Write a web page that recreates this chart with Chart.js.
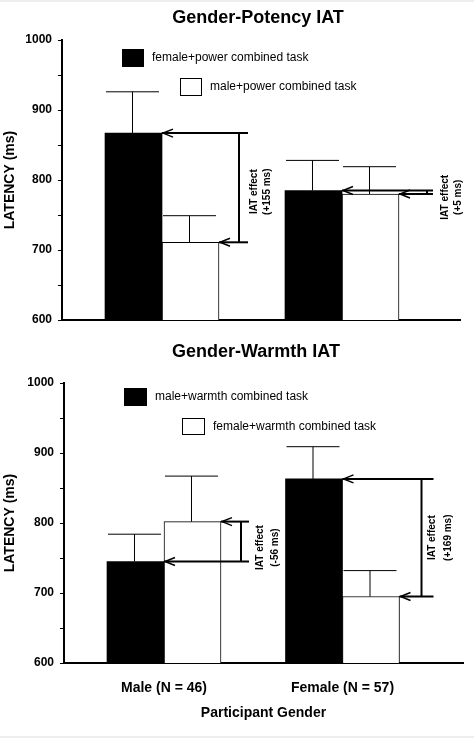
<!DOCTYPE html>
<html>
<head>
<meta charset="utf-8">
<script src="https://cdn.jsdelivr.net/npm/chart.js@4.4.0/dist/chart.umd.min.js"></script>
<style>
  html, body { margin: 0; padding: 0; background: #fff; }
  body { width: 474px; height: 738px; position: relative; overflow: hidden; }
  canvas { position: absolute; left: 0; }
  .band { position: absolute; left: 0; width: 474px; background: #eeeeee; z-index: 5; }
</style>
</head>
<body>
<div class="band" style="top:0;height:2px"></div>
<canvas id="c1" width="474" height="340" style="top:0"></canvas>
<canvas id="c2" width="474" height="398" style="top:340px"></canvas>
<div class="band" style="top:736px;height:2px"></div>
<script>
// ---------------- data ----------------
const categories = ['Male (N = 46)', 'Female (N = 57)'];
const yTicks = [600, 700, 800, 900, 1000];
const yTitle = 'LATENCY (ms)';
const xTitle = 'Participant Gender';

const potencyTitle = 'Gender-Potency IAT';
const potencyLabels = ['female+power combined task', 'male+power combined task'];
const potencyA = [867, 785];
const potencyB = [711, 780];
const potencyAErr = [926, 828];
const potencyBErr = [749, 819];
const potencyEffects = ['(+155 ms)', '(+5 ms)'];

const warmthTitle = 'Gender-Warmth IAT';
const warmthLabels = ['male+warmth combined task', 'female+warmth combined task'];
const warmthA = [745, 863];
const warmthB = [802, 695];
const warmthAErr = [784, 909];
const warmthBErr = [867, 732];
const warmthEffects = ['(-56 ms)', '(+169 ms)'];

// ---------------- styling ----------------
const FONT = '"Liberation Sans", Arial, Helvetica, sans-serif';

const decor = {
  id: 'decor',
  afterDatasetsDraw(chart, args, o) {
    const ctx = chart.ctx;
    const ys = chart.scales.y;
    ctx.save();
    ctx.fillStyle = '#000';
    ctx.textBaseline = 'middle';
    // title
    ctx.font = 'bold 18px ' + FONT;
    ctx.textAlign = 'center';
    ctx.fillText(o.title, o.titleX, o.titleY);
    // legend
    chart.data.datasets.forEach((ds, i) => {
      const L = o.legend[i];
      ctx.fillStyle = ds.backgroundColor;
      ctx.fillRect(L.x, L.y, L.w, L.h);
      ctx.strokeStyle = '#000';
      ctx.lineWidth = 1;
      ctx.strokeRect(L.x + 0.5, L.y + 0.5, L.w - 1, L.h - 1);
      ctx.fillStyle = '#000';
      ctx.font = '12px ' + FONT;
      ctx.textAlign = 'left';
      ctx.fillText(ds.label, L.x + L.w + 8, L.y + L.h / 2);
    });
    // error bars
    chart.data.datasets.forEach((ds, i) => {
      const meta = chart.getDatasetMeta(i);
      meta.data.forEach((bar, j) => {
        const yt = ys.getPixelForValue(ds.errTop[j]);
        const w = bar.width;
        ctx.strokeStyle = '#000';
        ctx.lineWidth = 1;
        ctx.beginPath();
        ctx.moveTo(bar.x - w / 2 + 1, yt);
        ctx.lineTo(bar.x + w / 2 - 3, yt);
        ctx.moveTo(bar.x - 1, yt);
        ctx.lineTo(bar.x - 1, bar.y);
        ctx.stroke();
      });
    });
    // IAT effect annotations
    o.effects.forEach((txt, j) => {
      const bars = chart.data.datasets.map((ds, i) => chart.getDatasetMeta(i).data[j]);
      const s = o.effectStyle[j];
      const right = Math.max(...bars.map(b => b.x + b.width / 2));
      const xr = right + s.reach;
      ctx.strokeStyle = '#000';
      bars.forEach(b => {
        const x0 = b.x + b.width / 2;
        ctx.lineWidth = 2;
        ctx.beginPath();
        ctx.moveTo(x0, b.y);
        ctx.lineTo(xr, b.y);
        ctx.stroke();
        ctx.lineWidth = 1.5;
        ctx.beginPath();
        ctx.moveTo(x0 + 11, b.y - 4);
        ctx.lineTo(x0 + 1, b.y);
        ctx.lineTo(x0 + 11, b.y + 4);
        ctx.stroke();
      });
      const yTop = Math.min(...bars.map(b => b.y));
      const yBot = Math.max(...bars.map(b => b.y));
      ctx.lineWidth = 2;
      ctx.beginPath();
      ctx.moveTo(xr - s.bar, yTop);
      ctx.lineTo(xr - s.bar, yBot);
      ctx.stroke();
      ctx.save();
      ctx.translate(xr + s.text, (yTop + yBot) / 2 + s.dy);
      ctx.rotate(-Math.PI / 2);
      ctx.font = 'bold 10px ' + FONT;
      ctx.textAlign = 'center';
      ctx.fillStyle = '#000';
      ctx.fillText('IAT effect', 0, 0);
      ctx.fillText(txt, 0, s.gap);
      ctx.restore();
    });
    ctx.restore();
  }
};

function makeChart(id, cfg) {
  const mk = (vals) => vals.map((v, i) => ({ x: i, y: v }));
  return new Chart(document.getElementById(id), {
    type: 'bar',
    data: {
      datasets: [
        { label: cfg.labels[0], data: mk(cfg.a), errTop: cfg.aErr,
          backgroundColor: '#000000', borderWidth: 0, barThickness: 57 },
        { label: cfg.labels[1], data: mk(cfg.b), errTop: cfg.bErr,
          backgroundColor: '#ffffff', borderColor: '#000000', borderWidth: 1,
          borderSkipped: 'bottom', barThickness: 57 }
      ]
    },
    options: {
      responsive: false,
      animation: false,
      layout: { padding: cfg.padding },
      scales: {
        x: {
          type: 'linear', min: cfg.xMin, max: cfg.xMax, offset: false,
          grid: { display: false },
          border: { display: true, color: '#000', width: 2 },
          afterBuildTicks: s => { s.ticks = categories.map((c, i) => ({ value: i })); },
          ticks: { display: cfg.showX, autoSkip: false, maxRotation: 0, padding: 9, color: '#000',
                   font: { family: FONT, size: 14, weight: 'bold' },
                   callback: v => categories[v] },
          title: { display: cfg.showX, text: xTitle, color: '#000',
                   font: { family: FONT, size: 14, weight: 'bold' },
                   padding: { top: 0, bottom: 16 } },
          afterFit: s => { s.height = cfg.xHeight; }
        },
        y: {
          min: 600, max: 1000,
          grid: { display: true, drawOnChartArea: false, drawTicks: true, tickLength: 4, color: '#000', lineWidth: 1 },
          border: { display: true, color: '#000', width: 2 },
          ticks: { stepSize: 50, padding: 6, color: '#000', autoSkip: false,
                   font: { family: FONT, size: 12, weight: 'bold' },
                   callback: v => yTicks.includes(v) ? String(v) : '' },
          title: { display: true, text: yTitle, color: '#000',
                   font: { family: FONT, size: 14, weight: 'bold' },
                   padding: { top: 2, bottom: 0 } },
          afterFit: s => { s.width = cfg.yWidth; }
        }
      },
      plugins: {
        legend: { display: false },
        tooltip: { enabled: false },
        decor: {
          title: cfg.title, titleX: cfg.titleX, titleY: cfg.titleY,
          legend: cfg.legend, effects: cfg.effects, effectStyle: cfg.effectStyle
        }
      }
    },
    plugins: [decor]
  });
}

makeChart('c1', {
  labels: potencyLabels, a: potencyA, b: potencyB, aErr: potencyAErr, bErr: potencyBErr,
  effects: potencyEffects, title: potencyTitle, titleX: 258, titleY: 18,
  padding: { top: 40, right: 14, bottom: 20, left: 0 },
  xMin: -0.5556, xMax: 1.6556, xHeight: 0, yWidth: 62, showX: false,
  legend: [ { x: 122, y: 49, w: 22, h: 18 }, { x: 180, y: 78, w: 22, h: 18 } ],
  effectStyle: [ { reach: 29, bar: 9, text: 6, gap: 13, dy: 4 },
                 { reach: 34, bar: 6, text: 12, gap: 13, dy: 5 } ]
});

makeChart('c2', {
  labels: warmthLabels, a: warmthA, b: warmthB, aErr: warmthAErr, bErr: warmthBErr,
  effects: warmthEffects, title: warmthTitle, titleX: 256, titleY: 12,
  padding: { top: 43, right: 11, bottom: 0, left: 0 },
  xMin: -0.5602, xMax: 1.675, xHeight: 75, yWidth: 64, showX: true,
  legend: [ { x: 124, y: 48, w: 23, h: 18 }, { x: 182, y: 78, w: 23, h: 17 } ],
  effectStyle: [ { reach: 28, bar: 8, text: 11, gap: 15, dy: 6 },
                 { reach: 34, bar: 12, text: -1, gap: 16, dy: 0 } ]
});
</script>
</body>
</html>
